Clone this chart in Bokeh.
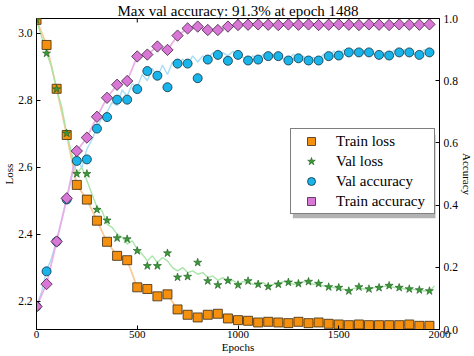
import math
from bokeh.plotting import figure
from bokeh.models import (Range1d, LinearAxis, FixedTicker, Legend, LegendItem,
                          ColumnDataSource, PrintfTickFormatter, Title, BoxAnnotation)
from bokeh.embed import file_html
from bokeh.resources import INLINE

# sampled values (markers), every 50 epochs
epochs = list(range(0, 2000, 50))

train_loss = [3.040, 2.965, 2.834, 2.696, 2.547, 2.503, 2.440, 2.377, 2.335, 2.322,
              2.241, 2.236, 2.214, 2.220, 2.175, 2.159, 2.151, 2.159, 2.162, 2.148,
              2.143, 2.141, 2.136, 2.138, 2.136, 2.134, 2.138, 2.134, 2.136, 2.132,
              2.130, 2.128, 2.130, 2.128, 2.128, 2.128, 2.128, 2.130, 2.126, 2.126]

val_loss = [3.040, 2.940, 2.833, 2.701, 2.580, 2.580, 2.473, 2.441, 2.388, 2.385,
            2.350, 2.305, 2.305, 2.343, 2.271, 2.273, 2.315, 2.260, 2.248, 2.261,
            2.248, 2.260, 2.250, 2.243, 2.250, 2.256, 2.252, 2.258, 2.252, 2.242,
            2.240, 2.230, 2.242, 2.236, 2.240, 2.246, 2.240, 2.236, 2.233, 2.230]

val_acc = [0.074, 0.187, 0.283, 0.418, 0.542, 0.547, 0.646, 0.683, 0.739, 0.739,
           0.773, 0.831, 0.816, 0.779, 0.855, 0.855, 0.808, 0.868, 0.883, 0.864,
           0.883, 0.865, 0.868, 0.879, 0.879, 0.865, 0.872, 0.865, 0.865, 0.879,
           0.881, 0.891, 0.891, 0.891, 0.883, 0.881, 0.891, 0.891, 0.883, 0.891]

train_acc = [0.074, 0.146, 0.283, 0.422, 0.574, 0.617, 0.684, 0.745, 0.787, 0.799,
             0.878, 0.884, 0.910, 0.899, 0.945, 0.968, 0.974, 0.963, 0.963, 0.974,
             0.979, 0.980, 0.981, 0.980, 0.979, 0.981, 0.980, 0.981, 0.979, 0.980,
             0.981, 0.980, 0.979, 0.981, 0.980, 0.979, 0.981, 0.980, 0.980, 0.981]

# faint per-epoch curves, read every 25 epochs
raw_epochs = list(range(0, 2000, 25))

raw_val_loss = [3.04, 2.99, 2.94, 2.90, 2.83, 2.78, 2.70, 2.64, 2.58, 2.60,
                2.56, 2.52, 2.48, 2.47, 2.43, 2.42, 2.40, 2.39, 2.37, 2.38,
                2.355, 2.34, 2.32, 2.335, 2.315, 2.33, 2.32, 2.30, 2.29, 2.30,
                2.285, 2.29, 2.28, 2.285, 2.27, 2.275, 2.262, 2.27, 2.257, 2.262,
                2.25, 2.258, 2.255, 2.25, 2.25, 2.255, 2.245, 2.25, 2.252, 2.258,
                2.256, 2.25, 2.252, 2.258, 2.256, 2.25, 2.25, 2.245, 2.242, 2.24,
                2.238, 2.235, 2.232, 2.238, 2.24, 2.236, 2.236, 2.24, 2.24, 2.244,
                2.245, 2.24, 2.24, 2.236, 2.236, 2.234, 2.233, 2.23, 2.23, 2.245]

raw_val_acc = [0.074, 0.12, 0.19, 0.23, 0.29, 0.35, 0.42, 0.49, 0.55, 0.52,
               0.58, 0.61, 0.65, 0.68, 0.70, 0.73, 0.72, 0.77, 0.75, 0.79,
               0.78, 0.82, 0.80, 0.84, 0.81, 0.85, 0.82, 0.86, 0.84, 0.87,
               0.85, 0.88, 0.86, 0.88, 0.87, 0.89, 0.87, 0.89, 0.88, 0.895,
               0.88, 0.875, 0.87, 0.88, 0.87, 0.885, 0.875, 0.885, 0.875, 0.87,
               0.868, 0.885, 0.872, 0.878, 0.867, 0.875, 0.868, 0.885, 0.878, 0.895,
               0.882, 0.90, 0.89, 0.90, 0.89, 0.898, 0.89, 0.885, 0.882, 0.89,
               0.882, 0.898, 0.89, 0.90, 0.89, 0.885, 0.884, 0.90, 0.89, 0.895]

x_ticks = [0, 500, 1000, 1500, 2000]
loss_ticks = [2.2, 2.4, 2.6, 2.8, 3.0]
acc_ticks = [0.0, 0.2, 0.4, 0.6, 0.8, 1.0]
title_text = "Max val accuracy: 91.3% at epoch 1488"
x_label = "Epochs"
loss_label = "Loss"
acc_label = "Accuracy"

FONT = "Liberation Serif"
X0, X1 = 0, 2000
L0, L1 = 2.115, 3.044
A0, A1 = 0.0, 1.0
FW, FH = 404, 313  # intended frame size in px

def px_x(px):
    return X0 + px * (X1 - X0) / FW

def px_l(px):
    return L0 + px * (L1 - L0) / FH

src = ColumnDataSource(dict(epoch=epochs, train_loss=train_loss, val_loss=val_loss,
                            val_acc=val_acc, train_acc=train_acc))
raw_src = ColumnDataSource(dict(epoch=raw_epochs, val_loss=raw_val_loss, val_acc=raw_val_acc))

p = figure(width=474, height=356, output_backend="svg", toolbar_location=None,
           x_range=Range1d(X0, X1), y_range=Range1d(L0, L1),
           min_border_left=35, min_border_right=35, min_border_top=0, min_border_bottom=27,
           background_fill_color="white", border_fill_color="white")
p.extra_y_ranges = {"acc": Range1d(A0, A1)}

p.title = Title(text=title_text, align="center", text_font=FONT, text_font_size="15px",
                text_font_style="normal", text_color="black", standoff=0, offset=0)

p.xgrid.visible = False
p.ygrid.visible = False
p.outline_line_color = "black"
p.outline_line_width = 1

def style_axis(ax, standoff, size="11.5px"):
    ax.major_tick_in = 4
    ax.major_tick_out = 0
    ax.minor_tick_in = 0
    ax.minor_tick_out = 0
    ax.major_label_text_font = FONT
    ax.major_label_text_font_size = size
    ax.major_label_text_color = "black"
    ax.axis_line_color = "black"
    ax.major_tick_line_color = "black"
    ax.major_label_standoff = standoff
    ax.axis_label_text_font = FONT
    ax.axis_label_text_font_size = "11px"
    ax.axis_label_text_font_style = "normal"
    ax.axis_label_text_color = "black"
    ax.axis_label_standoff = 0

xa = p.xaxis[0]
xa.ticker = FixedTicker(ticks=x_ticks)
xa.axis_label = x_label
style_axis(xa, 1, "11px")

ya = p.yaxis[0]
ya.ticker = FixedTicker(ticks=loss_ticks)
ya.formatter = PrintfTickFormatter(format="%.1f")
ya.axis_label = loss_label
style_axis(ya, 4)

ra = LinearAxis(y_range_name="acc", ticker=FixedTicker(ticks=acc_ticks),
                formatter=PrintfTickFormatter(format="%.1f"))
style_axis(ra, 4)
p.add_layout(ra, "right")

p.add_layout(Title(text=acc_label, align="center", text_font=FONT, text_font_size="11px",
                   text_font_style="normal", text_color="black", standoff=0, offset=0), "right")

# top-edge tick marks (mirroring bottom ticks)
p.segment(x0=x_ticks, y0=[L1] * len(x_ticks), x1=x_ticks, y1=[L1 - px_l(4) + L0] * len(x_ticks),
          line_color="black", line_width=1)

# faint per-epoch curves
p.line("epoch", "train_loss", source=src, color="#f7c590", line_width=1.8, alpha=0.9)
p.line("epoch", "val_loss", source=raw_src, color="#a3e4a3", line_width=1.4, alpha=0.95)
p.line("epoch", "val_acc", source=raw_src, color="#a3dbf4", line_width=1.4, alpha=0.95,
       y_range_name="acc")
p.line("epoch", "train_acc", source=src, color="#eaa8e6", line_width=1.8, alpha=0.9,
       y_range_name="acc")

r_tl = p.scatter("epoch", "train_loss", source=src, marker="square", size=9,
                 fill_color="#f5900f", line_color="#3a2a10", line_width=0.8)
r_vl = p.scatter("epoch", "val_loss", source=src, marker="star", size=8.5,
                 fill_color="#3a9a3a", line_color="#1d5a1d", line_width=0.6)
r_va = p.scatter("epoch", "val_acc", source=src, marker="circle", size=9,
                 fill_color="#19b5ea", line_color="#10303d", line_width=0.8, y_range_name="acc")
r_ta = p.scatter("epoch", "train_acc", source=src, marker="square", angle=0.785398, size=8,
                 fill_color="#d977d6", line_color="#3d203c", line_width=0.8, y_range_name="acc")

# legend shadow
p.add_layout(BoxAnnotation(left=px_x(257), right=px_x(400), bottom=px_l(112), top=px_l(196),
                           fill_color="#808080", fill_alpha=0.6, line_color=None))

legend = Legend(items=[LegendItem(label="Train loss", renderers=[r_tl]),
                       LegendItem(label="Val loss", renderers=[r_vl]),
                       LegendItem(label="Val accuracy", renderers=[r_va]),
                       LegendItem(label="Train accuracy", renderers=[r_ta])],
                location=(254, 115), orientation="vertical",
                label_text_font=FONT, label_text_font_size="15px", label_text_color="black",
                glyph_width=36, glyph_height=20, label_height=20, label_width=96, label_standoff=7,
                spacing=0, padding=2, margin=0,
                border_line_color="black", border_line_width=1.2,
                background_fill_color="white", background_fill_alpha=1.0)
p.add_layout(legend, "center")

open("out.html", "w").write(file_html(p, INLINE))
